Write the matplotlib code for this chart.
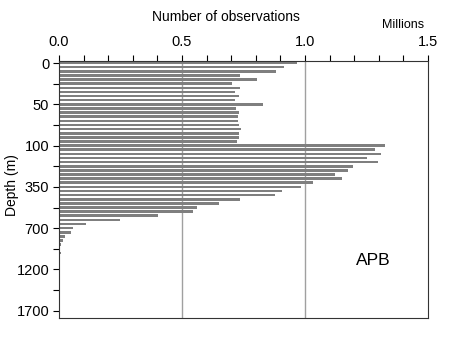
import matplotlib
matplotlib.use("Agg")
import matplotlib.pyplot as plt
from matplotlib.ticker import MultipleLocator

plt.rcParams['font.family'] = ['Liberation Sans', 'DejaVu Sans']

# observations per depth bin (millions), top to bottom
counts = [0.966, 0.913, 0.882, 0.734, 0.805, 0.703, 0.737, 0.714, 0.731, 0.715,
          0.831, 0.720, 0.732, 0.729, 0.729, 0.733, 0.740, 0.732, 0.731, 0.725,
          1.325, 1.285, 1.309, 1.250, 1.297, 1.194, 1.173, 1.122, 1.150, 1.031,
          0.985, 0.908, 0.878, 0.737, 0.649, 0.561, 0.546, 0.404, 0.249, 0.110,
          0.056, 0.047, 0.026, 0.016, 0.009, 0.005, 0.008]
depth_labels = ["0", "50", "100", "350", "700", "1200", "1700"]
x_ticks = [0.0, 0.5, 1.0, 1.5]

fig = plt.figure(figsize=(4.74, 3.38), dpi=100)
ax = fig.add_axes([0.1245, 0.060, 0.7785, 0.7595])

pos = list(range(len(counts)))
ax.barh(pos, counts, height=0.62, color="#7f7f7f", zorder=2)

# vertical reference lines
for v in [0.5, 1.0]:
    ax.axvline(v, color="#a0a0a0", lw=1.0, zorder=1)

ax.set_xlim(0, 1.5)
ax.set_ylim(61.7, -0.5)

ax.xaxis.tick_top()
ax.set_xticks(x_ticks)
ax.set_xticklabels(["%.1f" % t for t in x_ticks])
ax.xaxis.set_minor_locator(MultipleLocator(0.1))
ax.set_yticks(range(0, 61, 10))
ax.set_yticklabels(depth_labels)
ax.yaxis.set_minor_locator(MultipleLocator(5))

ax.tick_params(axis="both", which="both", direction="out", length=4, width=0.8,
               labelsize=10.5, colors="black")
ax.tick_params(axis="x", which="major", pad=5)
ax.tick_params(axis="y", which="major", pad=3)

for s in ax.spines.values():
    s.set_linewidth(0.8)
    s.set_color("#333333")

fig.text(0.477, 0.950, "Number of observations", ha="center", va="center", fontsize=10)
fig.text(0.850, 0.926, "Millions", ha="center", va="center", fontsize=9)
ax.set_ylabel("Depth (m)", fontsize=10)
ax.yaxis.set_label_coords(-0.108, 0.517)
ax.text(0.787, 0.230, "APB", transform=fig.transFigure, ha="center", va="center", fontsize=12.5)

fig.savefig("out.png", dpi=100)
